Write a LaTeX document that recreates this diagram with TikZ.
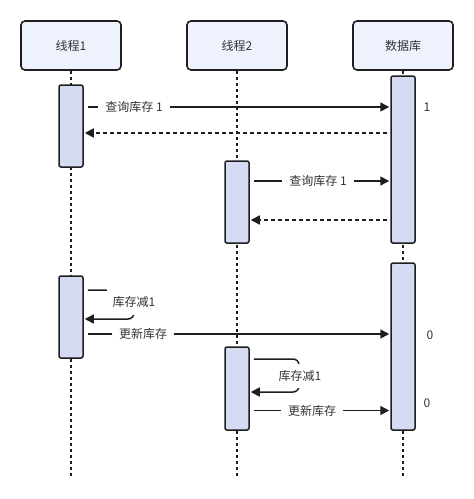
\documentclass[tikz,border=0pt]{standalone}
\usepackage{fontspec}
\setmainfont{Noto Sans CJK SC}
\usetikzlibrary{arrows.meta}
\definecolor{headfill}{RGB}{238,242,252}
\definecolor{actfill}{RGB}{212,219,243}
\definecolor{edge}{RGB}{30,30,30}
\definecolor{txt}{RGB}{51,51,51}
\begin{document}
\begin{tikzpicture}[x=1pt,y=-1pt,
  every node/.style={font=\fontsize{12}{14}\selectfont, text=txt},
  head/.style={draw=edge, line width=1.6pt, rounded corners=4pt, fill=headfill,
    minimum width=100pt, minimum height=49pt, inner sep=0pt},
  act/.style={draw=edge, line width=1.5pt, rounded corners=2pt, fill=actfill,
    minimum width=24pt, inner sep=0pt},
  life/.style={draw=edge, line width=1.5pt, dash pattern=on 3pt off 3pt},
  msg/.style={draw=edge, line width=1.5pt, -{Triangle[length=9pt,width=9pt]},
    shorten <=4pt, shorten >=1pt},
  ret/.style={draw=edge, line width=1.5pt, dash pattern=on 4pt off 3pt,
    -{Triangle[length=9pt,width=9pt]}, shorten <=3pt, shorten >=1pt},
  lbl/.style={fill=white, inner xsep=7pt, inner ysep=2pt},
  val/.style={text=txt}
]
\useasboundingbox (0,0) rectangle (474,499);

% headers
\node[head] (H1) at (71,45.5) {线程1};
\node[head] (H2) at (237,45.5) {线程2};
\node[head] (H3) at (403,45.5) {数据库};

% lifeline ends
\coordinate (E1) at (71,478);
\coordinate (E2) at (237,478);
\coordinate (E3) at (403,478);
\draw[life] (H1.south) -- (E1);
\draw[life] (H2.south) -- (E2);
\draw[life] (H3.south) -- (E3);

% activations
\node[act, minimum height=82pt] (A1) at (71,126) {};
\node[act, minimum height=82pt] (B1) at (237,202) {};
\node[act, minimum height=167pt] (D1) at (403,159.5) {};
\node[act, minimum height=167pt] (D2) at (403,346.5) {};
\node[act, minimum height=82pt] (A2) at (71,317) {};
\node[act, minimum height=83pt] (B2) at (237,388.5) {};

% thread 1 query
\draw[msg] (A1.east |- 0,107) -- (D1.west |- 0,107);
\node[lbl] (q1) at (134,107) {查询库存 1};
\draw[ret] (D1.west |- 0,133) -- (A1.east |- 0,133);
\node[val] (v1) at (427,107) {1};

% thread 2 query
\draw[msg] (B1.east |- 0,181) -- (D1.west |- 0,181);
\node[lbl] (q2) at (318,181) {查询库存 1};
\draw[ret] (D1.west |- 0,220) -- (B1.east |- 0,220);

% thread 1 self loop
\coordinate (L1a) at (134,290);
\coordinate (L1b) at (134,319);
\draw[msg, rounded corners=6pt] (A2.east |- L1a) -- (L1a) -- (L1b) -- (A2.east |- L1b);
\node[lbl, minimum height=26pt, minimum width=54pt, inner sep=0pt] (s1) at (134,301.5) {库存减1};

% thread 1 update
\draw[msg] (A2.east |- 0,334) -- (D2.west |- 0,334);
\node[lbl] (u1) at (143,334) {更新库存};
\node[val] (v2) at (430,335) {0};

% thread 2 self loop
\coordinate (L2a) at (299,359);
\coordinate (L2b) at (299,392);
\draw[msg, rounded corners=6pt] (B2.east |- L2a) -- (L2a) -- (L2b) -- (B2.east |- L2b);
\node[lbl, minimum height=24pt, minimum width=54pt, inner sep=0pt] (s2) at (300,376) {库存减1};

% thread 2 update
\draw[msg] (B2.east |- 0,410.5) -- (D2.west |- 0,410.5);
\node[lbl] (u2) at (312,410.5) {更新库存};
\node[val] (v3) at (427,403) {0};
\end{tikzpicture}
\end{document}
